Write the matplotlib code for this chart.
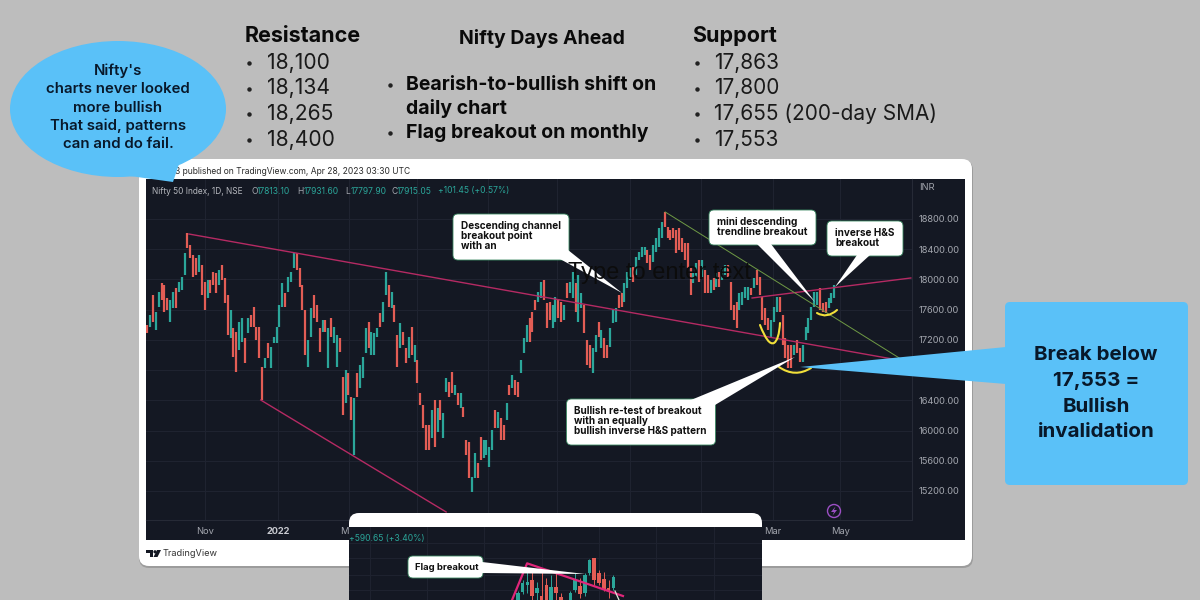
#!/usr/bin/env python3
"""Nifty days-ahead slide: daily chart with trendlines, callouts and a monthly inset."""
import matplotlib
matplotlib.use("Agg")
import matplotlib.pyplot as plt
import pandas as pd
from matplotlib.patches import Ellipse, FancyBboxPatch, PathPatch, Polygon, Rectangle, Circle
from matplotlib.path import Path

plt.rcParams["font.family"] = ["Inter", "DejaVu Sans"]

GREY, WHITE, DARK = "#bdbdbd", "#ffffff", "#141823"
GRID, SEP, AXTXT = "#1f2330", "#262a36", "#a3a6ae"
UP, DOWN = "#2ba69a", "#e35d55"
PINK, GREEN, YELLOW, BLUE = "#b52a63", "#6f9a45", "#f2e03a", "#5ac1f8"
NAVY = "#08182a"

# ---- daily candles (one bar per ~2.5 days at this size) ----
highs = [
    17397, 17529, 17794, 17573, 17838, 17948, 17926, 17750, 17728, 17838,
    17882, 17970, 18036, 18345, 18610, 18455, 18323, 18279, 18323, 18191,
    17970, 17992, 17992, 18103, 18081, 18125, 18191, 18014, 17794, 17595,
    17353, 17309, 17441, 17485, 17221, 17485, 17529, 17640, 17375, 17375,
    16846, 16956, 17154, 17110, 17243, 17375, 17662, 17948, 17816, 18036,
    18103, 18345, 18345, 18147, 17926, 17595, 17199, 17618, 17794, 17662,
    17353, 17463, 17463, 17353, 17485, 17375, 17265, 17221, 16714, 16802,
    16758, 16449, 16427, 16758, 16868, 16978, 17353, 17441, 17309, 17287,
    17353, 17552, 17706, 18103, 17926, 17838, 17662, 17265, 17419, 17309,
    17088, 17243, 17375, 17133, 16934, 16493, 16339, 16074, 16074, 16273,
    16405, 16295, 16405, 16229, 16692, 16647, 16780, 16603, 16493, 16493,
    16317, 15876, 15854, 15391, 15699, 15567, 15919, 15875, 15875, 15787,
    16008, 16272, 16250, 16162, 16074, 16360, 16603, 16735, 16669, 16647,
    16934, 17221, 17397, 17486, 17574, 17728, 17838, 17971, 17993, 17684,
    17706, 17662, 17772, 17728, 17706, 17662, 17949, 17971, 18103, 17949,
    18059, 17816, 17662, 17199, 17133, 17089, 17265, 17442, 17331, 17221,
    17133, 17353, 17596, 17618, 17794, 17816, 17949, 18103, 18169, 18169,
    18301, 18368, 18434, 18434, 18390, 18323, 18456, 18544, 18676, 18765,
    18897, 18698, 18654, 18676, 18654, 18685, 18544, 18478, 18478, 18147,
    18103, 18213, 18257, 18257, 18125, 18059, 17993, 18015, 18081, 18103,
    18147, 18191, 18191, 17971, 17662, 17706, 17816, 17838, 17905, 17905,
    17882, 18015, 18125, 18037, 17772, 17618, 17486, 17464, 17640, 17772,
    17772, 17530, 17221, 17133, 17133, 17133, 17199, 17089, 17133, 17375,
    17486, 17640, 17838, 17838, 17882, 17684, 17706, 17750, 17816, 17931,
]
lows = [
    17287, 17375, 17441, 17331, 17640, 17728, 17573, 17595, 17441, 17618,
    17618, 17838, 17860, 18058, 18411, 18279, 18036, 18058, 18103, 17794,
    17595, 17750, 17816, 17926, 17816, 17926, 17992, 17684, 17265, 17221,
    16978, 16780, 17066, 17177, 16890, 17287, 17375, 17375, 17199, 16956,
    16405, 16824, 16956, 16824, 17154, 17154, 17375, 17640, 17640, 17838,
    17970, 18147, 18125, 17904, 17595, 17000, 16846, 17243, 17485, 17441,
    17044, 17309, 17309, 16824, 17243, 17155, 16846, 17044, 16206, 16361,
    16471, 16140, 15677, 16449, 16559, 16692, 17022, 17088, 17000, 17000,
    17243, 17375, 17441, 17794, 17640, 17618, 17441, 16846, 17088, 17133,
    16890, 16956, 17000, 16912, 16625, 16339, 16030, 15743, 15743, 15898,
    15787, 15986, 16140, 15898, 16515, 16449, 16493, 16471, 16339, 16295,
    16184, 15677, 15369, 15192, 15368, 15368, 15611, 15633, 15677, 15523,
    15743, 16030, 16030, 15875, 15875, 16140, 16471, 16559, 16471, 16449,
    16757, 17023, 17177, 17177, 17309, 17596, 17706, 17750, 17728, 17353,
    17464, 17353, 17442, 17486, 17442, 17464, 17750, 17816, 17750, 17574,
    17442, 17618, 17287, 16868, 16824, 16758, 17045, 17243, 17089, 16956,
    16956, 17111, 17419, 17442, 17618, 17640, 17706, 17882, 17993, 17971,
    18059, 18257, 18301, 18323, 18213, 18125, 18235, 18368, 18434, 18544,
    18698, 18544, 18522, 18544, 18346, 18390, 18368, 18257, 18147, 17794,
    17949, 18037, 17971, 18037, 17816, 17816, 17816, 17860, 17905, 17905,
    17993, 18059, 18037, 17596, 17464, 17353, 17596, 17662, 17750, 17728,
    17794, 17882, 17927, 17794, 17464, 17397, 17331, 17243, 17442, 17574,
    17574, 17133, 16956, 16824, 16824, 17000, 17023, 16912, 16912, 17199,
    17287, 17464, 17640, 17662, 17596, 17574, 17552, 17618, 17684, 17750,
]
direction = (
    "RTRTTRRRTT" "RTTTRRRRTR" "RTRRRTRRRT" "RRTTRTRRRR" "RTRTTTTTRT" "TTRRRRTTRR"
    "RTRTRTTRRT" "RRTRTTTRTT" "TRTTRTRRTR" "RTRTRRRRRT" "RTRTTRRTRT" "RRRTTRRTTT"
    "TRTRRTRTRR" "TTTRRRTTRR" "RTTRRTRTTR" "TTRRRTTRTR" "RTTTRRTTTR" "TTTTRRTTTT"
    "RRRRRRRRRR" "TTRTRRTRTR" "TTRRRRTTTT" "RTRRRRRTTT" "RRRRRTRRTT" "TTTTRRRTTT"
)
bar_dates = pd.date_range("2021-09-12", "2023-04-28", periods=len(highs))

price_ticks = [15200, 15600, 16000, 16400, 16800, 17200, 17600, 18000, 18400, 18800]
date_ticks = ["2021-11-01", "2022-01-03", "2022-03-05", "2022-05-03", "2022-07-03",
              "2022-09-01", "2022-11-03", "2023-01-03", "2023-03-06", "2023-05-03"]
# labels that sit behind the inset are left blank
date_labels = ["Nov", "2022", "Mar", "", "", "", "", "", "Mar", "May"]

# trendlines: (start date, end date), (start price, end price)
top_channel = (("2021-10-18", "2023-06-27"), (18601, 16920))
low_channel = (("2021-12-19", "2022-05-28"), (16404, 14922))
neckline = (("2023-02-16", "2023-07-03"), (17754, 18019))
mini_trend = (("2022-12-03", "2023-06-23"), (18893, 16960))

# ---- monthly inset candles ----
m_open = [16935, 17285, 17565, 17775, 17215, 17103, 17565, 16900, 17495, 17047, 16655,
          16900, 17355, 17523, 17215, 18055, 18685, 18083, 17803, 17425, 17425]
m_close = [17215, 17635, 17705, 17103, 17425, 16900, 16900, 17495, 17215, 16900, 16865,
           17243, 17775, 17187, 17985, 18615, 17775, 17663, 17383, 17355, 17915]
m_high = [17300, 17775, 18335, 18125, 17705, 18195, 17845, 17985, 18055, 17215, 16935,
          17300, 18055, 17845, 18055, 18650, 18685, 18195, 18125, 17775, 17985]
m_low = [16800, 17200, 17215, 16900, 16900, 16700, 16700, 16800, 16900, 16700, 16500,
         16700, 17285, 17005, 17100, 17985, 17565, 17565, 17300, 17005, 17355]
flag_x = [-1.2, 1.95, 22.0]
flag_y = [16935, 18475, 17103]

resistance = ["18,100", "18,134", "18,265", "18,400"]
support = ["17,863", "17,800", "17,655 (200-day SMA)", "17,553"]


def px_axes(x0, y0, x1, y1, z):
    """Axes placed by reference pixels."""
    return fig.add_axes([x0 / 1200, 1 - y1 / 600, (x1 - x0) / 1200, (y1 - y0) / 600], zorder=z)


def layer(z):
    ax = px_axes(0, 0, 1200, 600, z)
    ax.set_xlim(0, 1200); ax.set_ylim(600, 0); ax.axis("off")
    return ax


def rbox(ax, x0, y0, x1, y1, r, fc, ec="none", lw=0, **kw):
    ax.add_patch(FancyBboxPatch((x0, y0), x1 - x0, y1 - y0, boxstyle=f"round,pad=0,rounding_size={r}",
                                fc=fc, ec=ec, lw=lw, **kw))


def callout(ax, box, tail, lines, tx, ty, size=7.2):
    rbox(ax, *box, 5, WHITE, ec="#3c8a63", lw=0.6)
    ax.add_patch(Polygon(tail, fc=WHITE, ec="none"))
    for i, s in enumerate(lines):
        ax.text(tx, ty + i * 10.2, s, fontsize=size, fontweight="bold", color="#101010", va="center")


def arc(ax, pts):
    codes = [Path.MOVETO] + [Path.CURVE3] * (len(pts) - 1)
    ax.add_patch(PathPatch(Path(pts, codes), fc="none", ec=YELLOW, lw=1.5, capstyle="round"))


fig = plt.figure(figsize=(12, 6), dpi=100, facecolor=GREY)

# ---- card ----
base = layer(0)
rbox(base, 139, 160, 973, 568, 10, "#8f8f8f", alpha=0.7)
rbox(base, 139, 159, 972, 566, 10, WHITE)
base.add_patch(Rectangle((146, 179), 819, 361, fc=DARK, ec="none"))
base.text(175, 171, "3 published on TradingView.com, Apr 28, 2023 03:30 UTC",
          fontsize=6.1, color="#2a2a2a", va="center")

# ---- main daily chart ----
ax = px_axes(146, 179, 912, 520, 1)
ax.set_facecolor(DARK)
colors = [UP if d == "T" else DOWN for d in direction]
ax.vlines(bar_dates, lows, highs, colors=colors, lw=1.6, zorder=3)
for dates, prices in (top_channel, low_channel, neckline):
    ax.plot(pd.to_datetime(list(dates)), prices, color=PINK, lw=1.0, zorder=4)
ax.plot(pd.to_datetime(list(mini_trend[0])), mini_trend[1], color=GREEN, lw=0.7, zorder=4)
ax.set_xlim(pd.Timestamp("2021-09-11"), pd.Timestamp("2023-07-04"))
ax.set_ylim(14816, 19329)
ax.set_xticks(pd.to_datetime(date_ticks))
ax.set_xticklabels(date_labels)
ax.set_yticks(price_ticks)
ax.set_yticklabels([f"{p}.00" for p in price_ticks])
ax.yaxis.tick_right()
ax.tick_params(length=0, labelsize=6.7, colors=AXTXT)
ax.tick_params(axis="x", pad=5)
ax.tick_params(axis="y", pad=4.5)
ax.grid(True, color=GRID, lw=0.8)
ax.set_axisbelow(True)
for lab in ax.get_xticklabels():
    if lab.get_text() in ("2022", "2023"):
        lab.set_fontweight("bold"); lab.set_color("#c8cad0")
for side in ("top", "left"):
    ax.spines[side].set_visible(False)
for side in ("bottom", "right"):
    ax.spines[side].set_color(SEP); ax.spines[side].set_linewidth(0.8)

# ---- layer over the chart: inset frame and chart-level text ----
mid = layer(2)
rbox(mid, 349, 513, 762, 640, 10, WHITE)
mid.add_patch(Rectangle((349, 527), 413, 73, fc=DARK, ec="none"))
mid.text(919, 188, "INR", fontsize=6.7, color=AXTXT, va="center")
mid.add_patch(Circle((834, 511), 6.5, fc="none", ec="#9c4fc4", lw=1))
mid.add_patch(Polygon([(835.5, 506.5), (831, 512), (834, 512), (832.5, 515.5), (837, 510), (834, 510)],
                      fc="#9c4fc4", ec="none"))
mid.text(152, 191, "Nifty 50 Index, 1D, NSE", fontsize=6.0, color="#b6b8be", va="center")
for x, s, c in ((251, "O", AXTXT), (257, "17813.10", UP), (297, "H", AXTXT), (304, "17931.60", UP),
                (345, "L", AXTXT), (351, "17797.90", UP), (391, "C", AXTXT), (397, "17915.05", UP),
                (438, "+101.45 (+0.57%)", UP)):
    mid.text(x, 191, s, fontsize=6.1, color=c, va="center")
# TradingView footer
mid.add_patch(Polygon([(146, 550), (153, 550), (153, 557), (149.5, 557), (149.5, 553), (146, 553)], fc="#131722"))
mid.add_patch(Circle((155, 551.8), 1.6, fc="#131722"))
mid.add_patch(Polygon([(157, 550), (161, 550), (157.5, 557), (153.5, 557)], fc="#131722"))
mid.text(163, 553, "TradingView", fontsize=6.6, color="#333333", va="center")

# ---- monthly inset ----
ins = px_axes(349, 527, 762, 600, 3)
ins.set_facecolor("none")
for i in range(len(m_open)):
    c = UP if m_close[i] >= m_open[i] else DOWN
    ins.vlines(i, m_low[i], m_high[i], color=c, lw=0.7, zorder=3)
    ins.bar(i, abs(m_close[i] - m_open[i]), bottom=min(m_open[i], m_close[i]), width=0.76, color=c, zorder=3)
ins.plot(flag_x, flag_y, color="#e0267a", lw=1.6, zorder=4)
ins.set_xlim(-35.3, 51.08)
ins.set_ylim(16935, 20001)
ins.set_xticks([-31, -19, -7, 5, 17, 29, 41])
ins.set_yticks([17355, 17985, 18685, 19315])
ins.tick_params(length=0, labelbottom=False, labelleft=False)
ins.grid(True, color=GRID, lw=0.7)
ins.set_axisbelow(True)
for s in ins.spines.values():
    s.set_visible(False)

# ---- everything drawn on top ----
top = layer(4)
top.text(349, 538, "+590.65 (+3.40%)", fontsize=6.1, color=UP, va="center")
top.plot([615, 619], [591, 600], color="#dfe8dc", lw=0.9)

arc(top, [(760, 325), (768, 346), (774, 343), (779, 340), (780, 323)])
arc(top, [(779, 367), (795, 378), (811, 368)])
arc(top, [(817, 313), (827, 319), (837, 310)])

callout(top, (453, 214, 569, 260), [(568, 250), (622, 293), (560, 259)],
        ["Descending channel", "breakout point", "with an"], 461, 226)
callout(top, (709, 210, 816, 245), [(757, 244), (771, 244), (815, 302)],
        ["mini descending", "trendline breakout"], 717, 222)
callout(top, (827, 221, 903, 256), [(857, 255), (870, 255), (835, 287)],
        ["inverse H&S", "breakout"], 835, 233)
callout(top, (566.5, 399, 715.5, 445), [(691, 400), (715, 405), (795, 357)],
        ["Bullish re-test of breakout", "with an equally", "bullish inverse H&S pattern"], 574, 411)
callout(top, (408, 556, 483, 578), [(482, 562), (585, 574), (482, 573)], ["Flag breakout"], 415, 567, size=6.8)

top.text(568, 273, "Type to enter text", fontsize=17, family="Liberation Sans", color="#0c0c0c", va="center")

# blue box with pointer
rbox(top, 1005, 302, 1188, 485, 5, BLUE)
top.add_patch(Polygon([(1006, 347), (800, 367), (1006, 384)], fc=BLUE, ec="none"))
for y, s in zip((355, 381, 407, 432), ("Break below", "17,553 =", "Bullish", "invalidation")):
    top.text(1096, y, s, fontsize=14.8, fontweight="bold", color=NAVY, ha="center", va="center")

# speech bubble
top.add_patch(Ellipse((118, 109), 216, 136, fc=BLUE, ec="none"))
top.add_patch(Polygon([(130, 176), (173, 182), (182, 155)], fc=BLUE, ec="none"))
for y, s in zip((71, 89, 107.5, 126, 144), ("Nifty's", "charts never looked", "more bullish",
                                            "That said, patterns", "can and do fail.")):
    top.text(118, y, s, fontsize=10.8, fontweight="semibold", color=NAVY, ha="center", va="center")

# header columns
top.text(245, 36, "Resistance", fontsize=15.5, fontweight="bold", color="#0a0a0a", va="center")
top.text(692, 36, "Support", fontsize=15.5, fontweight="bold", color="#0a0a0a", va="center")
top.text(542, 39, "Nifty Days Ahead", fontsize=14, fontweight="bold", color="#0a0a0a", ha="center", va="center")
for y, s in zip((63, 88.5, 114, 140), resistance):
    top.plot(249, y, "o", ms=2.2, color="#222222")
    top.text(267, y, s, fontsize=15.2, color="#1a1a1a", va="center")
for y, s in zip((63, 88.5, 114, 140), support):
    top.plot(697, y, "o", ms=2.2, color="#222222")
    top.text(714, y, s, fontsize=15.0, color="#1a1a1a", va="center")
for y, s, bul in ((85, "Bearish-to-bullish shift on", True), (108, "daily chart", False),
                  (133, "Flag breakout on monthly", True)):
    if bul:
        top.plot(390, y, "o", ms=2.2, color="#222222")
    top.text(406, y, s, fontsize=14, fontweight="bold", color="#0a0a0a", va="center")

fig.savefig("out.png", dpi=100, facecolor=GREY)
